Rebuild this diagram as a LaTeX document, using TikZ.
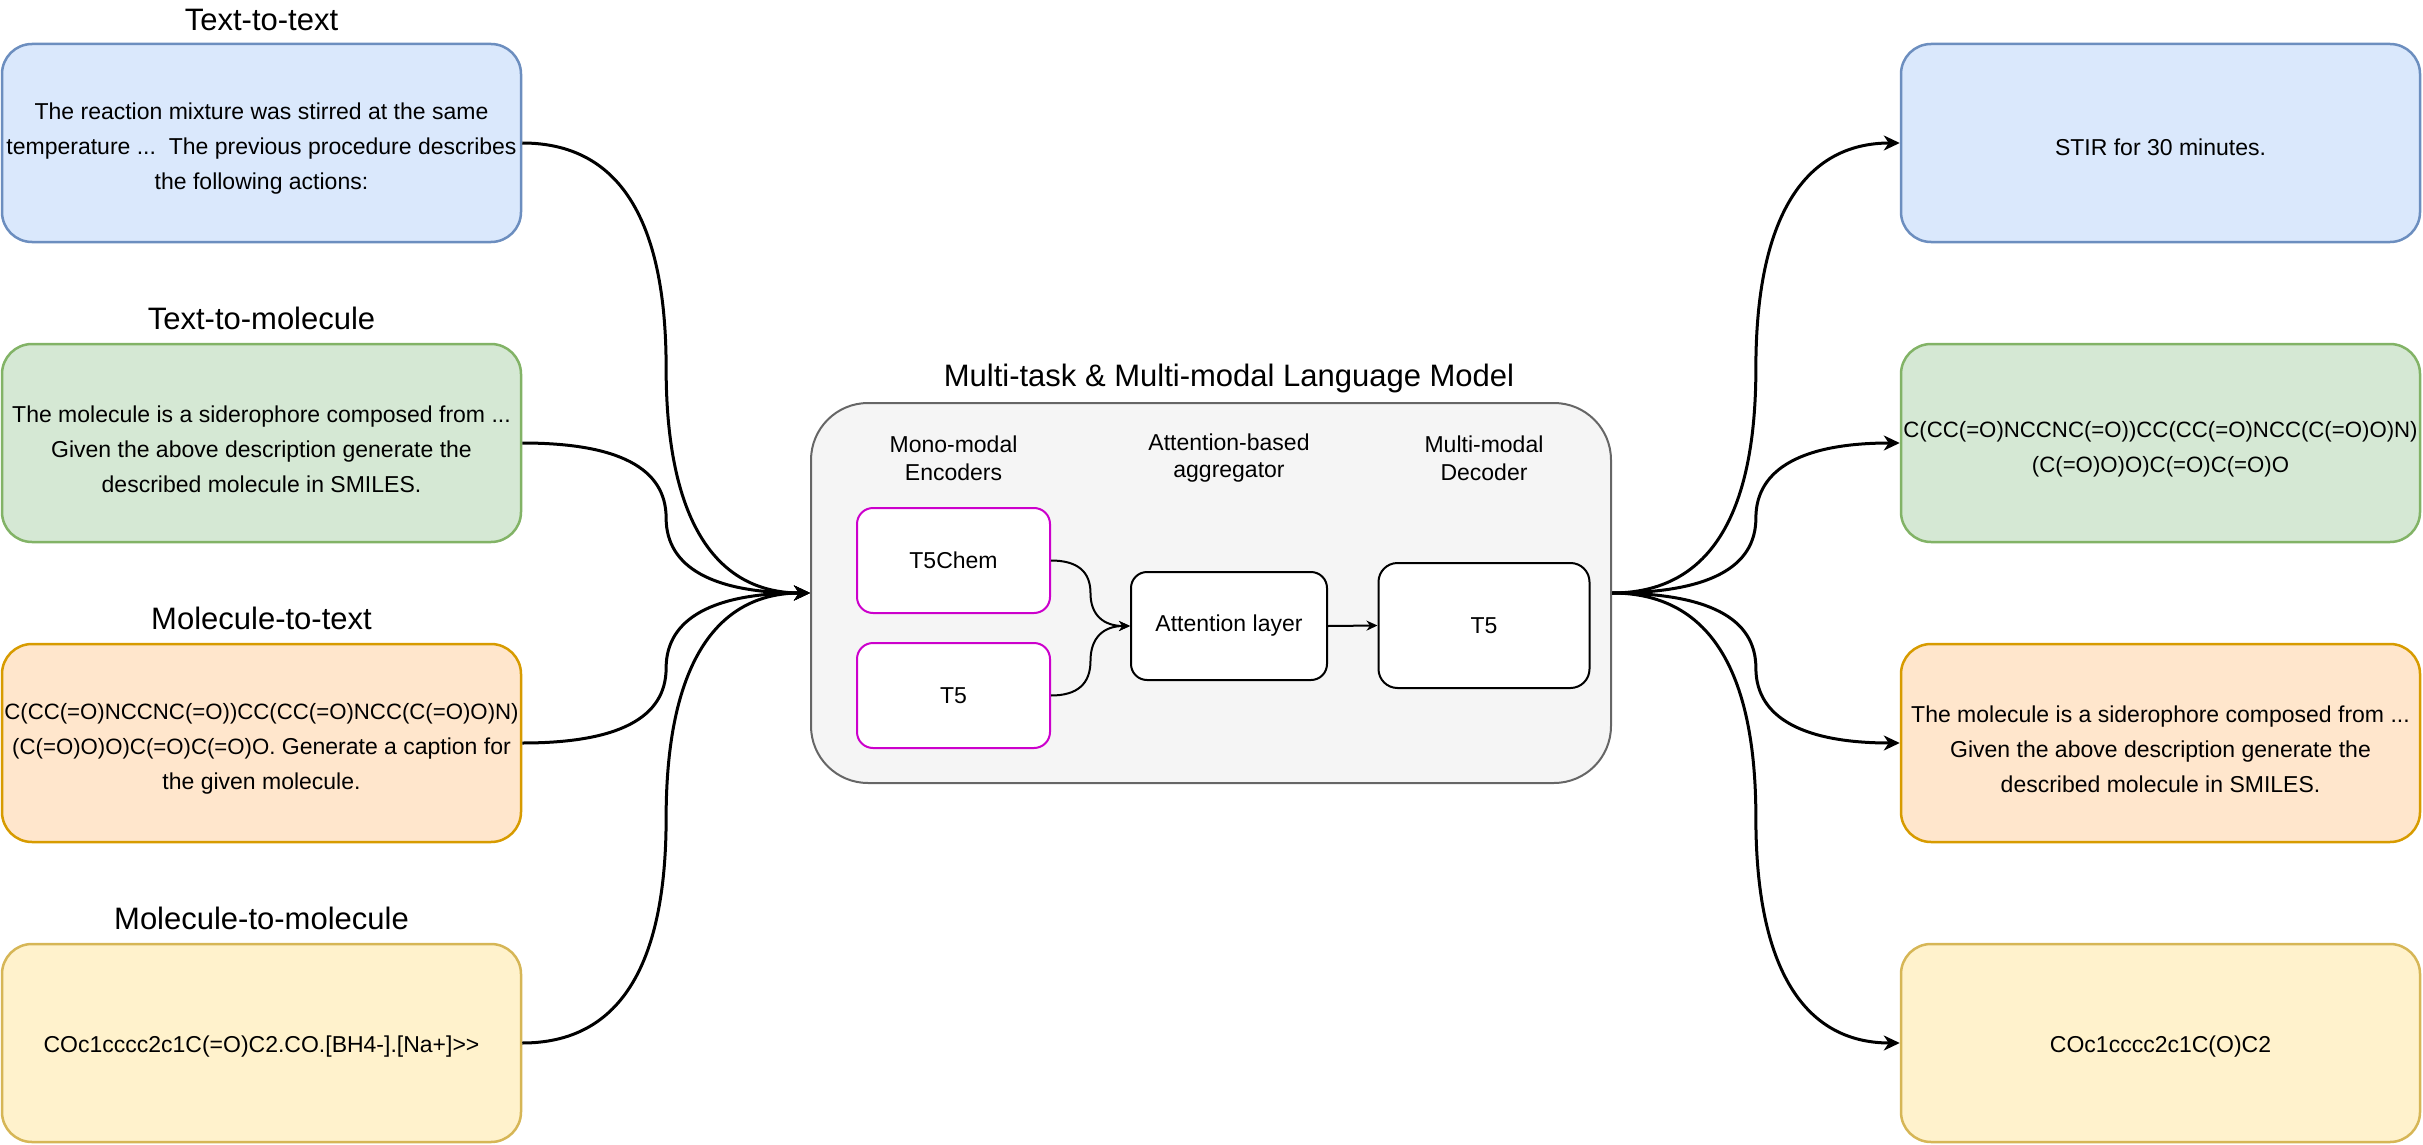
\documentclass[tikz,border=0pt]{standalone}
\usepackage{fontspec}
\setmainfont{Liberation Sans}
\usetikzlibrary{arrows.meta,calc}
\definecolor{bfill}{HTML}{DAE8FC}\definecolor{bdraw}{HTML}{6C8EBF}
\definecolor{gfill}{HTML}{D5E8D4}\definecolor{gdraw}{HTML}{82B366}
\definecolor{ofill}{HTML}{FFE6CC}\definecolor{odraw}{HTML}{D79B00}
\definecolor{yfill}{HTML}{FFF2CC}\definecolor{ydraw}{HTML}{D6B656}
\definecolor{mfill}{HTML}{F5F5F5}\definecolor{mdraw}{HTML}{666666}
\definecolor{encdraw}{HTML}{CC00CC}
\newcommand{\smiles}[1]{{\fontsize{22.2}{35}\selectfont #1}}
\tikzset{
  qcurve/.style={to path={
    let \p1=(\tikztostart), \p2=(\tikztotarget),
        \p3=($(\tikztostart)!0.5!(\tikztotarget)$) in
    .. controls ({\x1+2/3*(\x3-\x1)},\y1) and (\x3,{\y3+2/3*(\y1-\y3)}) .. (\x3,\y3)
    .. controls (\x3,{\y3+2/3*(\y2-\y3)}) and ({\x2+2/3*(\x3-\x2)},\y2) .. (\tikztotarget)}},
  iobox/.style={draw, rounded corners=30pt, line width=2.5pt, minimum width=519pt,
    minimum height=198pt, inner sep=0pt},
  boxtext/.style={inner sep=0pt, align=center, font=\fontsize{23}{35}\selectfont},
  bluebox/.style={iobox, fill=bfill, draw=bdraw},
  greenbox/.style={iobox, fill=gfill, draw=gdraw},
  orangebox/.style={iobox, fill=ofill, draw=odraw},
  yellowbox/.style={iobox, fill=yfill, draw=ydraw},
  tasktitle/.style={font=\fontsize{31}{37}\selectfont, inner sep=0pt},
  collabel/.style={font=\fontsize{23}{27.6}\selectfont, align=center, inner sep=0pt},
  innerbox/.style={draw, fill=white, line width=2pt, rounded corners=16pt, inner sep=0pt,
    font=\fontsize{23}{27.6}\selectfont},
  encbox/.style={innerbox, draw=encdraw, minimum width=193pt, minimum height=105pt},
  bigarrow/.style={line width=3pt, -{Stealth[length=16pt,width=15pt,inset=5pt]}},
  smallarrow/.style={line width=2pt, -{Stealth[length=11pt,width=10pt,inset=3.5pt]}},
}
\begin{document}
\begin{tikzpicture}[x=1pt,y=-1pt]
\useasboundingbox (0,0) rectangle (2423,1145);

% left input boxes
\node[bluebox] (in1) at (261.5,143) {};
\node[greenbox] (in2) at (261.5,443) {};
\node[orangebox] (in3) at (261.5,743) {};
\node[yellowbox] (in4) at (261.5,1043) {};
\node[boxtext] (in1txt) at ($(in1)+(0,6)$) {The reaction mixture was stirred at the same\\temperature ...\ \ The previous procedure describes\\the following actions:};
\node[boxtext] (in2txt) at ($(in2)+(0,6)$) {The molecule is a siderophore composed from ...\\Given the above description generate the\\described molecule in SMILES.};
\node[boxtext] (in3txt) at ($(in3)+(0,6)$) {\smiles{C(CC(=O)NCCNC(=O))CC(CC(=O)NCC(C(=O)O)N)}\\\smiles{(C(=O)O)O)C(=O)C(=O)O.} Generate a caption for\\the given molecule.};
\node[boxtext] (in4txt) at ($(in4)+(0,4)$) {COc1cccc2c1C(=O)C2.CO.[BH4-].[Na+]>{}>};

\node[tasktitle] (t1) at (261.5,20) {Text-to-text};
\node[tasktitle] (t2) at (261.5,318) {Text-to-molecule};
\node[tasktitle] (t3) at (261.5,618) {Molecule-to-text};
\node[tasktitle] (t4) at (261.5,918) {Molecule-to-molecule};

% right output boxes
\node[bluebox] (out1) at (2160.5,143) {};
\node[greenbox] (out2) at (2160.5,443) {};
\node[orangebox] (out3) at (2160.5,743) {};
\node[yellowbox] (out4) at (2160.5,1043) {};
\node[boxtext] (out1txt) at ($(out1)+(0,4)$) {STIR for 30 minutes.};
\node[boxtext] (out2txt) at ($(out2)+(0,6)$) {\smiles{C(CC(=O)NCCNC(=O))CC(CC(=O)NCC(C(=O)O)N)}\\\smiles{(C(=O)O)O)C(=O)C(=O)O}};
\node[boxtext] (out3txt) at ($(out3)+(0,6)$) {The molecule is a siderophore composed from ...\\Given the above description generate the\\described molecule in SMILES.};
\node[boxtext] (out4txt) at ($(out4)+(0,4)$) {COc1cccc2c1C(O)C2};

% model
\node[draw=mdraw, fill=mfill, line width=2pt, rounded corners=57pt, minimum width=800pt,
  minimum height=380pt, inner sep=0pt] (model) at (1211,593) {};
\node[tasktitle] (mtitle) at (1229,378) {Multi-task \& Multi-modal Language Model};

\node[collabel] (lenc) at (953.5,458) {Mono-modal\\Encoders};
\node[collabel] (lagg) at (1229,458) {Attention-based\\aggregator};
\node[collabel] (ldec) at (1484,458) {Multi-modal\\Decoder};

\node[encbox] (t5chem) at (953.5,560.5) {T5Chem};
\node[encbox] (t5enc) at (953.5,695.5) {T5};
\node[innerbox, minimum width=196pt, minimum height=108pt] (att) at (1229,626) {Attention layer};
\node[innerbox, minimum width=211pt, minimum height=125pt, rounded corners=19pt] (dec) at (1484,625.5) {T5};

% inner connectors
\draw[smallarrow] (t5chem.east) to[qcurve] (att.west);
\draw[smallarrow] (t5enc.east) to[qcurve] (att.west);
\draw[smallarrow] (att.east) -- (dec.west);

% outer connectors
\foreach \i in {1,...,4}{
  \draw[bigarrow] (in\i.east) to[qcurve] (model.west);
  \draw[bigarrow] (model.east) to[qcurve] (out\i.west);
}
\end{tikzpicture}
\end{document}
